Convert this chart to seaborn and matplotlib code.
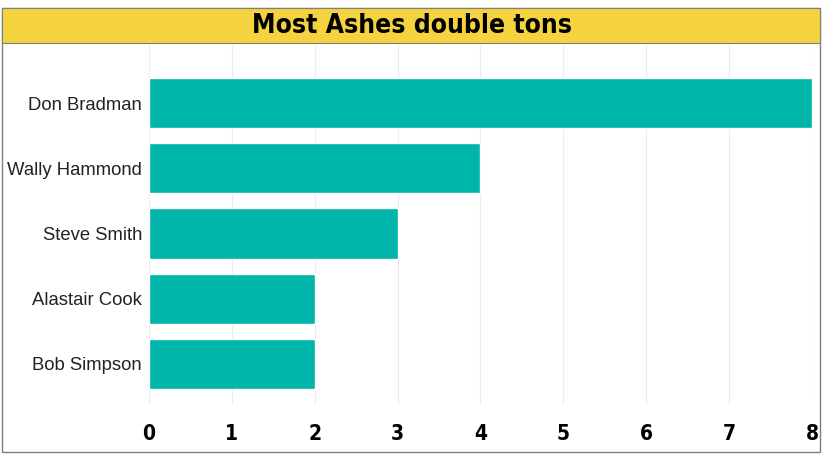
import matplotlib
matplotlib.use("Agg")
import matplotlib.pyplot as plt
import seaborn as sns
import pandas as pd
from matplotlib.patches import Rectangle

players = ["Don Bradman", "Wally Hammond", "Steve Smith", "Alastair Cook", "Bob Simpson"]
double_tons = [8, 4, 3, 2, 2]
x_ticks = [0, 1, 2, 3, 4, 5, 6, 7, 8]
title = "Most Ashes double tons"

df = pd.DataFrame({"Player": players, "Double tons": double_tons})

sns.set_style("white")
plt.rcParams["font.family"] = ["Liberation Sans", "DejaVu Sans"]

fig = plt.figure(figsize=(8.25, 4.59), dpi=100)
W, H = 825, 459

# outer frame and yellow title band
fig.patches.append(Rectangle((2 / W, 1 - 452 / H), 818 / W, 444 / H, transform=fig.transFigure,
                             facecolor="white", edgecolor="#7f7f7f", linewidth=1.0, zorder=0))
fig.patches.append(Rectangle((2 / W, 1 - 43 / H), 818 / W, 35 / H, transform=fig.transFigure,
                             facecolor="#F5D33F", edgecolor="#7f7f7f", linewidth=0.8, zorder=1))
fig.text(0.5, 1 - 26 / H, title, ha="center", va="center", fontsize=19, fontweight="bold",
         color="black", family="DejaVu Sans", fontstretch="condensed")

ax = fig.add_axes([149 / W, 1 - 405 / H, (812 - 149) / W, (405 - 45) / H])
ax.set_zorder(5)
ax.set_facecolor("none")
sns.barplot(data=df, x="Double tons", y="Player", color="#00B5AA", width=0.77,
            saturation=1, ax=ax, zorder=2)

ax.set_xlim(0, 8)
ax.set_ylim(4.63, -0.89)
ax.set_xticks(x_ticks)
ax.set_xticklabels([str(t) for t in x_ticks], fontsize=15, fontweight="bold", color="black",
                   family="DejaVu Sans", fontstretch="condensed")
ax.tick_params(axis="x", length=0, pad=14)
ax.tick_params(axis="y", length=0, pad=5, labelsize=13.3, labelcolor="#222222")
ax.grid(axis="x", color="#ececec", linewidth=0.8, zorder=0)
ax.set_axisbelow(True)
for s in ax.spines.values():
    s.set_visible(False)
ax.set_xlabel("")
ax.set_ylabel("")

fig.savefig("out.png", dpi=100)
